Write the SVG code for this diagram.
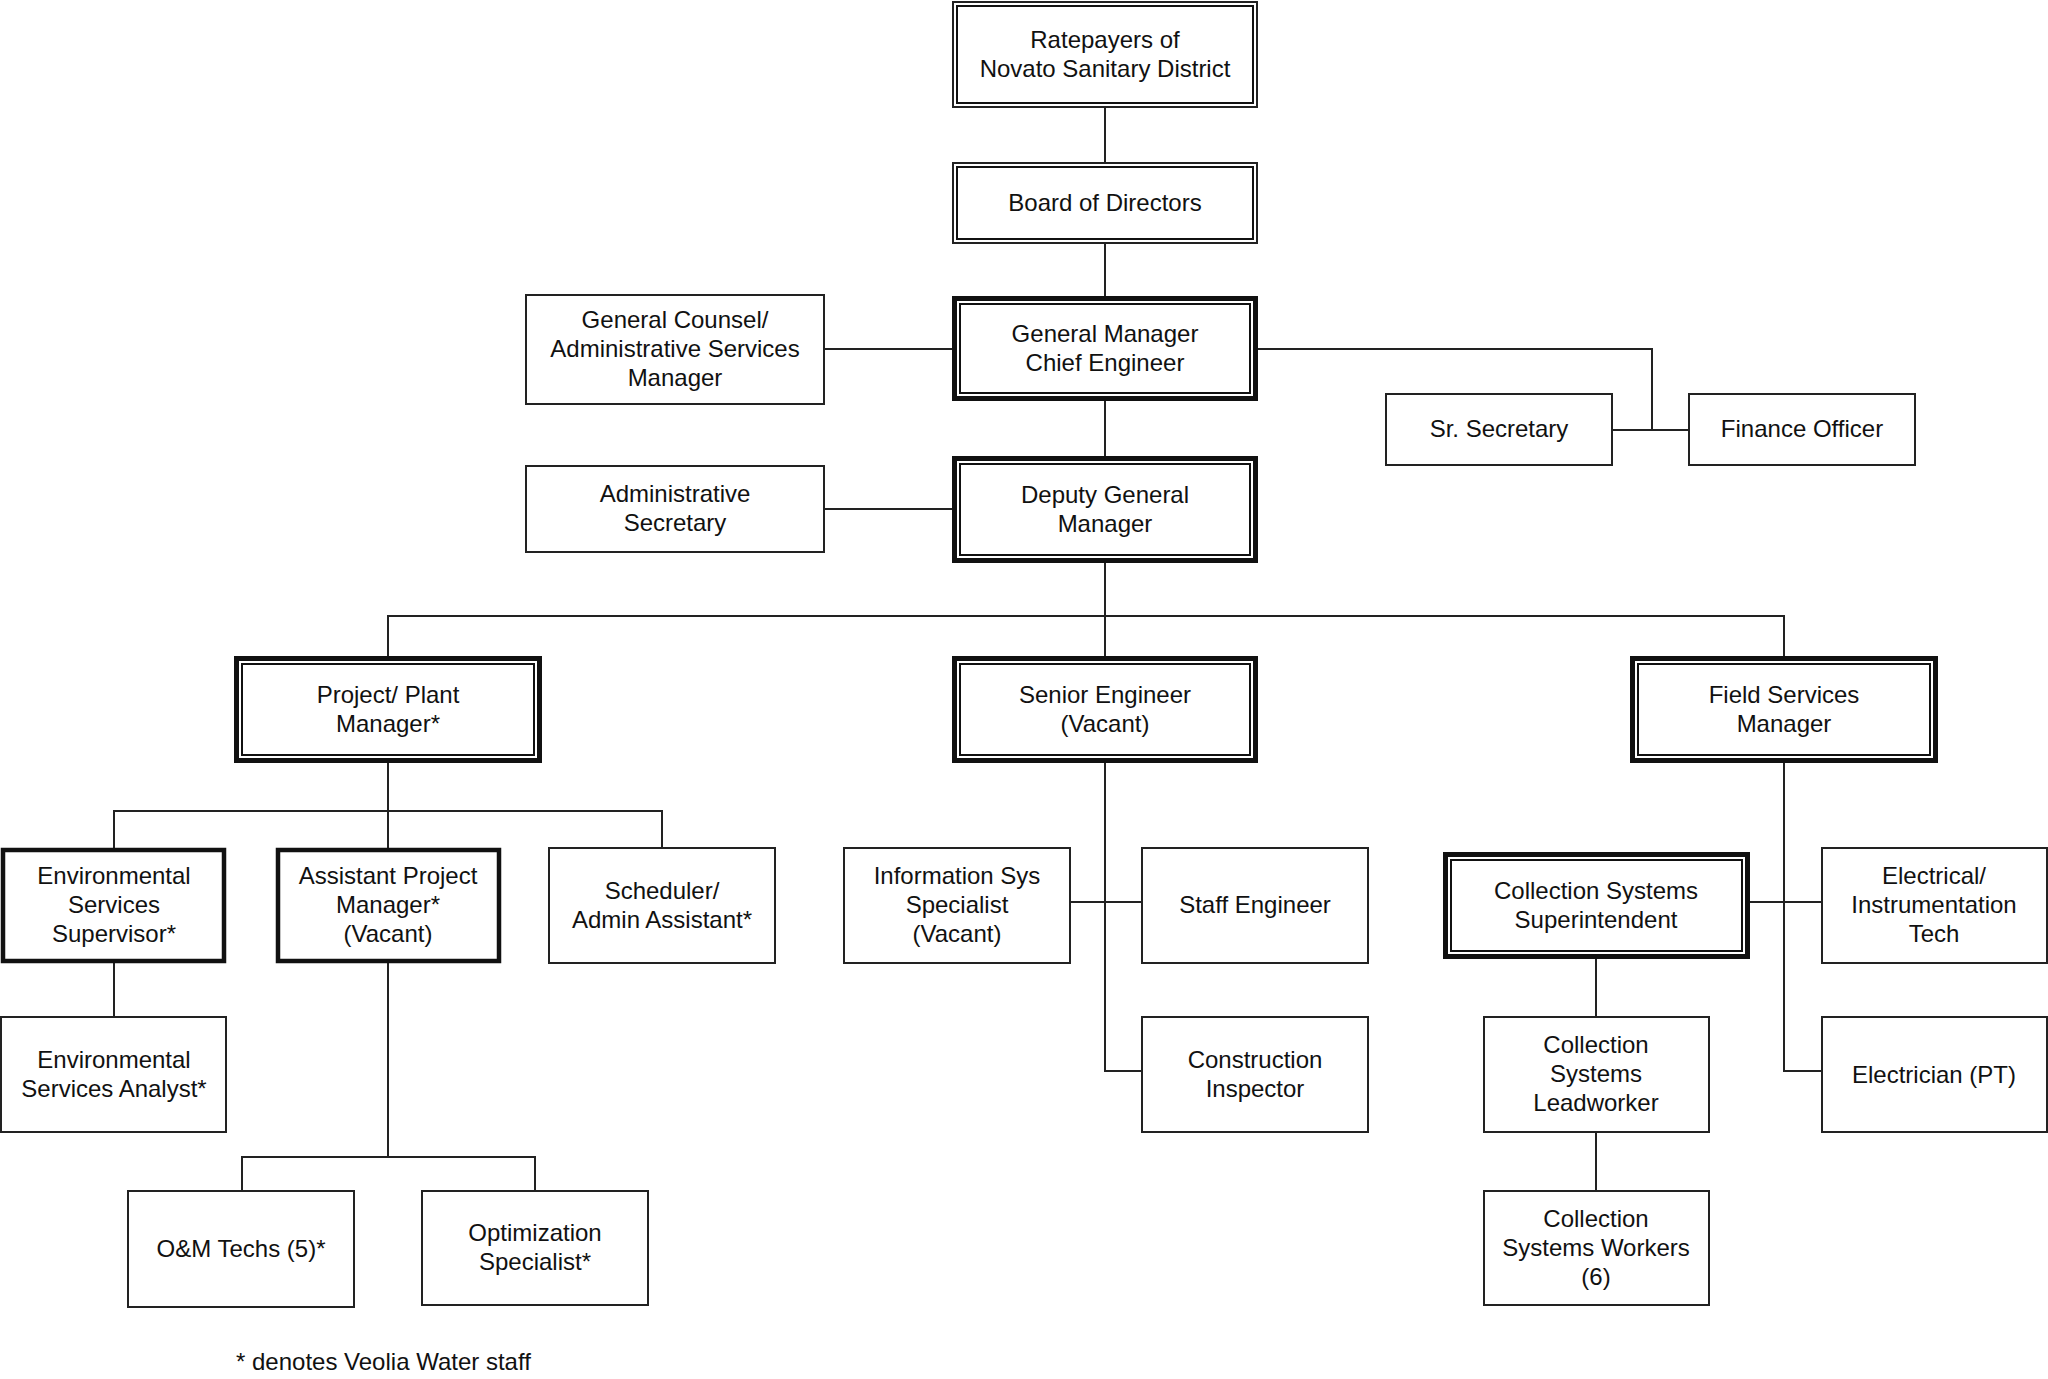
<svg xmlns="http://www.w3.org/2000/svg" width="2048" height="1379" viewBox="0 0 2048 1379">
<style>
.bg{fill:#fff}
.c{fill:none;stroke:#222;stroke-width:2}
.thin{fill:#fff;stroke:#222;stroke-width:2}
.thick{fill:#fff;stroke:#111;stroke-width:4.5}
.outer5{fill:#fff;stroke:#111;stroke-width:5}
.in2{fill:none;stroke:#111;stroke-width:2}
.dbl{fill:#fff;stroke:#222;stroke-width:2}
text{font-family:"Liberation Sans",Arial,sans-serif;font-size:24px;fill:#111;text-anchor:middle}
.fn{text-anchor:start}
</style>
<rect class="bg" x="0" y="0" width="2048" height="1379"/>
<g id="connectors">
<path class="c" d="M1105 108V162M1105 244V296M1105 401V456M824 349H952M1258 349H1652V430M1612 430H1689M824 509H952M1105 563V656M388 656V616H1784V656M388 763V848M114 848V811H662V848M114 963V1017M388 963V1157M242 1191V1157H535V1191M1105 763V1071H1142M1070 902H1142M1784 763V1071H1822M1750 902H1822M1596 959V1017M1596 1132V1191"/>
</g>
<g id="ratepayers">
<rect class="dbl" x="953" y="2" width="304" height="105"/>
<rect class="in2" x="957" y="6" width="296" height="97"/>
<text x="1105" y="48">Ratepayers of</text>
<text x="1105" y="77">Novato Sanitary District</text>
</g>
<g id="board">
<rect class="dbl" x="953" y="163" width="304" height="80"/>
<rect class="in2" x="957" y="167" width="296" height="72"/>
<text x="1105" y="211">Board of Directors</text>
</g>
<g id="gm">
<rect class="outer5" x="954.5" y="298.5" width="301" height="100"/>
<rect class="in2" x="960" y="304" width="290" height="89"/>
<text x="1105" y="342">General Manager</text>
<text x="1105" y="371">Chief Engineer</text>
</g>
<g id="general-counsel">
<rect class="thin" x="526" y="295" width="298" height="109"/>
<text x="675" y="328">General Counsel/</text>
<text x="675" y="357">Administrative Services</text>
<text x="675" y="386">Manager</text>
</g>
<g id="sr-secretary">
<rect class="thin" x="1386" y="394" width="226" height="71"/>
<text x="1499" y="437">Sr. Secretary</text>
</g>
<g id="finance-officer">
<rect class="thin" x="1689" y="394" width="226" height="71"/>
<text x="1802" y="437">Finance Officer</text>
</g>
<g id="admin-secretary">
<rect class="thin" x="526" y="466" width="298" height="86"/>
<text x="675" y="502">Administrative</text>
<text x="675" y="531">Secretary</text>
</g>
<g id="dgm">
<rect class="outer5" x="954.5" y="458.5" width="301" height="102"/>
<rect class="in2" x="960" y="464" width="290" height="91"/>
<text x="1105" y="503">Deputy General</text>
<text x="1105" y="532">Manager</text>
</g>
<g id="project-plant-manager">
<rect class="outer5" x="236.5" y="658.5" width="303" height="102"/>
<rect class="in2" x="242" y="664" width="292" height="91"/>
<text x="388" y="703">Project/ Plant</text>
<text x="388" y="732">Manager*</text>
</g>
<g id="senior-engineer">
<rect class="outer5" x="954.5" y="658.5" width="301" height="102"/>
<rect class="in2" x="960" y="664" width="290" height="91"/>
<text x="1105" y="703">Senior Engineer</text>
<text x="1105" y="732">(Vacant)</text>
</g>
<g id="field-services-manager">
<rect class="outer5" x="1632.5" y="658.5" width="303" height="102"/>
<rect class="in2" x="1638" y="664" width="292" height="91"/>
<text x="1784" y="703">Field Services</text>
<text x="1784" y="732">Manager</text>
</g>
<g id="env-services-supervisor">
<rect class="thick" x="3" y="850" width="221" height="111"/>
<text x="114" y="884">Environmental</text>
<text x="114" y="913">Services</text>
<text x="114" y="942">Supervisor*</text>
</g>
<g id="assistant-project-manager">
<rect class="thick" x="278" y="850" width="221" height="111"/>
<text x="388" y="884">Assistant Project</text>
<text x="388" y="913">Manager*</text>
<text x="388" y="942">(Vacant)</text>
</g>
<g id="scheduler">
<rect class="thin" x="549" y="848" width="226" height="115"/>
<text x="662" y="899">Scheduler/</text>
<text x="662" y="928">Admin Assistant*</text>
</g>
<g id="info-sys-specialist">
<rect class="thin" x="844" y="848" width="226" height="115"/>
<text x="957" y="884">Information Sys</text>
<text x="957" y="913">Specialist</text>
<text x="957" y="942">(Vacant)</text>
</g>
<g id="staff-engineer">
<rect class="thin" x="1142" y="848" width="226" height="115"/>
<text x="1255" y="913">Staff Engineer</text>
</g>
<g id="construction-inspector">
<rect class="thin" x="1142" y="1017" width="226" height="115"/>
<text x="1255" y="1068">Construction</text>
<text x="1255" y="1097">Inspector</text>
</g>
<g id="collection-superintendent">
<rect class="outer5" x="1445.5" y="854.5" width="302" height="102"/>
<rect class="in2" x="1451" y="860" width="291" height="91"/>
<text x="1596" y="899">Collection Systems</text>
<text x="1596" y="928">Superintendent</text>
</g>
<g id="electrical-instrumentation-tech">
<rect class="thin" x="1822" y="848" width="225" height="115"/>
<text x="1934" y="884">Electrical/</text>
<text x="1934" y="913">Instrumentation</text>
<text x="1934" y="942">Tech</text>
</g>
<g id="electrician">
<rect class="thin" x="1822" y="1017" width="225" height="115"/>
<text x="1934" y="1083">Electrician (PT)</text>
</g>
<g id="env-services-analyst">
<rect class="thin" x="1" y="1017" width="225" height="115"/>
<text x="114" y="1068">Environmental</text>
<text x="114" y="1097">Services Analyst*</text>
</g>
<g id="collection-leadworker">
<rect class="thin" x="1484" y="1017" width="225" height="115"/>
<text x="1596" y="1053">Collection</text>
<text x="1596" y="1082">Systems</text>
<text x="1596" y="1111">Leadworker</text>
</g>
<g id="collection-workers">
<rect class="thin" x="1484" y="1191" width="225" height="114"/>
<text x="1596" y="1227">Collection</text>
<text x="1596" y="1256">Systems Workers</text>
<text x="1596" y="1285">(6)</text>
</g>
<g id="om-techs">
<rect class="thin" x="128" y="1191" width="226" height="116"/>
<text x="241" y="1257">O&amp;M Techs (5)*</text>
</g>
<g id="optimization-specialist">
<rect class="thin" x="422" y="1191" width="226" height="114"/>
<text x="535" y="1241">Optimization</text>
<text x="535" y="1270">Specialist*</text>
</g>
<text class="fn" x="236" y="1370">* denotes Veolia Water staff</text>
</svg>
